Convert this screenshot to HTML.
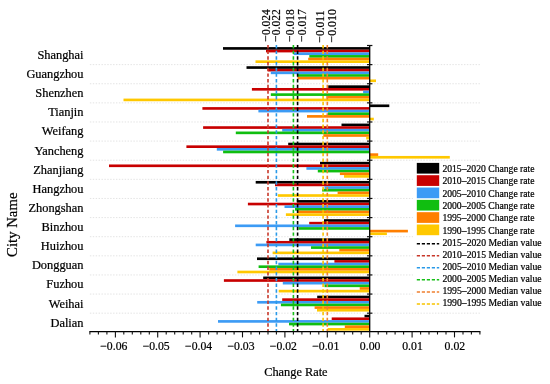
<!DOCTYPE html><html><head><meta charset="utf-8"><style>html,body{margin:0;padding:0;background:#fff;}svg{display:block;}text{font-family:"Liberation Serif","Times New Roman",serif;fill:#000;stroke:#000;stroke-width:0.22px;}</style></head><body>
<svg width="550" height="384" viewBox="0 0 550 384">
<line x1="89.9" y1="64.62" x2="479.9" y2="64.62" stroke="#e0e0e0" stroke-width="0.9" stroke-dasharray="1.4 1.5"/>
<line x1="89.9" y1="83.74" x2="479.9" y2="83.74" stroke="#e0e0e0" stroke-width="0.9" stroke-dasharray="1.4 1.5"/>
<line x1="89.9" y1="102.86" x2="479.9" y2="102.86" stroke="#e0e0e0" stroke-width="0.9" stroke-dasharray="1.4 1.5"/>
<line x1="89.9" y1="121.98" x2="479.9" y2="121.98" stroke="#e0e0e0" stroke-width="0.9" stroke-dasharray="1.4 1.5"/>
<line x1="89.9" y1="141.10" x2="479.9" y2="141.10" stroke="#e0e0e0" stroke-width="0.9" stroke-dasharray="1.4 1.5"/>
<line x1="89.9" y1="160.22" x2="479.9" y2="160.22" stroke="#e0e0e0" stroke-width="0.9" stroke-dasharray="1.4 1.5"/>
<line x1="89.9" y1="179.34" x2="479.9" y2="179.34" stroke="#e0e0e0" stroke-width="0.9" stroke-dasharray="1.4 1.5"/>
<line x1="89.9" y1="198.46" x2="479.9" y2="198.46" stroke="#e0e0e0" stroke-width="0.9" stroke-dasharray="1.4 1.5"/>
<line x1="89.9" y1="217.58" x2="479.9" y2="217.58" stroke="#e0e0e0" stroke-width="0.9" stroke-dasharray="1.4 1.5"/>
<line x1="89.9" y1="236.70" x2="479.9" y2="236.70" stroke="#e0e0e0" stroke-width="0.9" stroke-dasharray="1.4 1.5"/>
<line x1="89.9" y1="255.82" x2="479.9" y2="255.82" stroke="#e0e0e0" stroke-width="0.9" stroke-dasharray="1.4 1.5"/>
<line x1="89.9" y1="274.94" x2="479.9" y2="274.94" stroke="#e0e0e0" stroke-width="0.9" stroke-dasharray="1.4 1.5"/>
<line x1="89.9" y1="294.06" x2="479.9" y2="294.06" stroke="#e0e0e0" stroke-width="0.9" stroke-dasharray="1.4 1.5"/>
<line x1="89.9" y1="313.18" x2="479.9" y2="313.18" stroke="#e0e0e0" stroke-width="0.9" stroke-dasharray="1.4 1.5"/>
<rect x="223.0" y="47.10" width="146.7" height="2.65" fill="#000000"/>
<rect x="266.0" y="49.75" width="103.7" height="2.65" fill="#c80000"/>
<rect x="293.6" y="52.40" width="76.1" height="2.65" fill="#3c9bf5"/>
<rect x="309.3" y="55.05" width="60.4" height="2.65" fill="#10be10"/>
<rect x="308.2" y="57.70" width="61.5" height="2.65" fill="#ff7f00"/>
<rect x="255.5" y="60.35" width="114.2" height="2.65" fill="#ffc800"/>
<rect x="246.5" y="66.22" width="123.2" height="2.65" fill="#000000"/>
<rect x="267.6" y="68.87" width="102.1" height="2.65" fill="#c80000"/>
<rect x="270.8" y="71.52" width="98.9" height="2.65" fill="#3c9bf5"/>
<rect x="297.5" y="74.17" width="72.2" height="2.65" fill="#10be10"/>
<rect x="297.5" y="76.82" width="72.2" height="2.65" fill="#ff7f00"/>
<rect x="369.7" y="79.47" width="6.3" height="2.65" fill="#ffc800"/>
<rect x="328.2" y="85.34" width="41.5" height="2.65" fill="#000000"/>
<rect x="251.9" y="87.99" width="117.8" height="2.65" fill="#c80000"/>
<rect x="363.1" y="90.64" width="6.6" height="2.65" fill="#3c9bf5"/>
<rect x="270.8" y="93.29" width="98.9" height="2.65" fill="#10be10"/>
<rect x="326.5" y="95.94" width="43.2" height="2.65" fill="#ff7f00"/>
<rect x="123.5" y="98.59" width="246.2" height="2.65" fill="#ffc800"/>
<rect x="369.7" y="104.46" width="19.6" height="2.65" fill="#000000"/>
<rect x="202.4" y="107.11" width="167.3" height="2.65" fill="#c80000"/>
<rect x="258.4" y="109.76" width="111.3" height="2.65" fill="#3c9bf5"/>
<rect x="327.8" y="112.41" width="41.9" height="2.65" fill="#10be10"/>
<rect x="307.0" y="115.06" width="62.7" height="2.65" fill="#ff7f00"/>
<rect x="369.7" y="117.71" width="4.1" height="2.65" fill="#ffc800"/>
<rect x="341.5" y="123.58" width="28.2" height="2.65" fill="#000000"/>
<rect x="203.1" y="126.23" width="166.6" height="2.65" fill="#c80000"/>
<rect x="282.2" y="128.88" width="87.5" height="2.65" fill="#3c9bf5"/>
<rect x="235.8" y="131.53" width="133.9" height="2.65" fill="#10be10"/>
<rect x="323.3" y="134.18" width="46.4" height="2.65" fill="#ff7f00"/>
<rect x="366.2" y="136.83" width="3.5" height="2.65" fill="#ffc800"/>
<rect x="288.2" y="142.70" width="81.5" height="2.65" fill="#000000"/>
<rect x="186.4" y="145.35" width="183.3" height="2.65" fill="#c80000"/>
<rect x="216.8" y="148.00" width="152.9" height="2.65" fill="#3c9bf5"/>
<rect x="223.1" y="150.65" width="146.6" height="2.65" fill="#10be10"/>
<rect x="369.7" y="153.30" width="8.5" height="2.65" fill="#ff7f00"/>
<rect x="369.7" y="155.95" width="80.1" height="2.65" fill="#ffc800"/>
<rect x="320.0" y="161.82" width="49.7" height="2.65" fill="#000000"/>
<rect x="109.0" y="164.47" width="260.7" height="2.65" fill="#c80000"/>
<rect x="306.4" y="167.12" width="63.3" height="2.65" fill="#3c9bf5"/>
<rect x="317.8" y="169.77" width="51.9" height="2.65" fill="#10be10"/>
<rect x="339.9" y="172.42" width="29.8" height="2.65" fill="#ff7f00"/>
<rect x="344.0" y="175.07" width="25.7" height="2.65" fill="#ffc800"/>
<rect x="255.7" y="180.94" width="114.0" height="2.65" fill="#000000"/>
<rect x="275.0" y="183.59" width="94.7" height="2.65" fill="#c80000"/>
<rect x="324.5" y="186.24" width="45.2" height="2.65" fill="#3c9bf5"/>
<rect x="322.1" y="188.89" width="47.6" height="2.65" fill="#10be10"/>
<rect x="337.6" y="191.54" width="32.1" height="2.65" fill="#ff7f00"/>
<rect x="277.8" y="194.19" width="91.9" height="2.65" fill="#ffc800"/>
<rect x="296.8" y="200.06" width="72.9" height="2.65" fill="#000000"/>
<rect x="247.9" y="202.71" width="121.8" height="2.65" fill="#c80000"/>
<rect x="284.5" y="205.36" width="85.2" height="2.65" fill="#3c9bf5"/>
<rect x="295.0" y="208.01" width="74.7" height="2.65" fill="#10be10"/>
<rect x="297.3" y="210.66" width="72.4" height="2.65" fill="#ff7f00"/>
<rect x="285.9" y="213.31" width="83.8" height="2.65" fill="#ffc800"/>
<rect x="324.0" y="219.18" width="45.7" height="2.65" fill="#000000"/>
<rect x="309.2" y="221.83" width="60.5" height="2.65" fill="#c80000"/>
<rect x="235.1" y="224.48" width="134.6" height="2.65" fill="#3c9bf5"/>
<rect x="298.6" y="227.13" width="71.1" height="2.65" fill="#10be10"/>
<rect x="369.7" y="229.78" width="38.2" height="2.65" fill="#ff7f00"/>
<rect x="369.7" y="232.43" width="17.2" height="2.65" fill="#ffc800"/>
<rect x="289.3" y="238.30" width="80.4" height="2.65" fill="#000000"/>
<rect x="266.4" y="240.95" width="103.3" height="2.65" fill="#c80000"/>
<rect x="255.7" y="243.60" width="114.0" height="2.65" fill="#3c9bf5"/>
<rect x="311.0" y="246.25" width="58.7" height="2.65" fill="#10be10"/>
<rect x="339.3" y="248.90" width="30.4" height="2.65" fill="#ff7f00"/>
<rect x="272.6" y="251.55" width="97.1" height="2.65" fill="#ffc800"/>
<rect x="257.0" y="257.42" width="112.7" height="2.65" fill="#000000"/>
<rect x="334.4" y="260.07" width="35.3" height="2.65" fill="#c80000"/>
<rect x="278.3" y="262.72" width="91.4" height="2.65" fill="#3c9bf5"/>
<rect x="258.6" y="265.37" width="111.1" height="2.65" fill="#10be10"/>
<rect x="269.3" y="268.02" width="100.4" height="2.65" fill="#ff7f00"/>
<rect x="237.4" y="270.67" width="132.3" height="2.65" fill="#ffc800"/>
<rect x="263.2" y="276.54" width="106.5" height="2.65" fill="#000000"/>
<rect x="223.9" y="279.19" width="145.8" height="2.65" fill="#c80000"/>
<rect x="282.8" y="281.84" width="86.9" height="2.65" fill="#3c9bf5"/>
<rect x="324.5" y="284.49" width="45.2" height="2.65" fill="#10be10"/>
<rect x="359.7" y="287.14" width="10.0" height="2.65" fill="#ff7f00"/>
<rect x="278.7" y="289.79" width="91.0" height="2.65" fill="#ffc800"/>
<rect x="317.2" y="295.66" width="52.5" height="2.65" fill="#000000"/>
<rect x="282.2" y="298.31" width="87.5" height="2.65" fill="#c80000"/>
<rect x="257.2" y="300.96" width="112.5" height="2.65" fill="#3c9bf5"/>
<rect x="280.9" y="303.61" width="88.8" height="2.65" fill="#10be10"/>
<rect x="314.6" y="306.26" width="55.1" height="2.65" fill="#ff7f00"/>
<rect x="317.0" y="308.91" width="52.7" height="2.65" fill="#ffc800"/>
<rect x="364.5" y="314.78" width="5.2" height="2.65" fill="#000000"/>
<rect x="331.7" y="317.43" width="38.0" height="2.65" fill="#c80000"/>
<rect x="218.0" y="320.08" width="151.7" height="2.65" fill="#3c9bf5"/>
<rect x="289.0" y="322.73" width="80.7" height="2.65" fill="#10be10"/>
<rect x="344.8" y="325.38" width="24.9" height="2.65" fill="#ff7f00"/>
<rect x="327.6" y="328.03" width="42.1" height="2.65" fill="#ffc800"/>
<rect x="413" y="161.5" width="137" height="149" fill="#fff"/>
<line x1="297.6" y1="45.0" x2="297.6" y2="331.6" stroke="#000000" stroke-width="1.6" stroke-dasharray="3.4 2.28"/>
<line x1="268.0" y1="45.0" x2="268.0" y2="331.6" stroke="#c8382a" stroke-width="1.6" stroke-dasharray="3.4 2.28"/>
<line x1="276.4" y1="45.0" x2="276.4" y2="331.6" stroke="#2a9ae8" stroke-width="1.6" stroke-dasharray="3.4 2.28"/>
<line x1="293.4" y1="45.0" x2="293.4" y2="331.6" stroke="#18c018" stroke-width="1.6" stroke-dasharray="3.4 2.28"/>
<line x1="327.3" y1="45.0" x2="327.3" y2="331.6" stroke="#f08030" stroke-width="1.6" stroke-dasharray="3.4 2.28"/>
<line x1="323.1" y1="45.0" x2="323.1" y2="331.6" stroke="#f8c400" stroke-width="1.6" stroke-dasharray="3.4 2.28"/>
<line x1="369.7" y1="45.5" x2="369.7" y2="331.6" stroke="#000" stroke-width="1.3"/>
<line x1="367.0" y1="45.50" x2="372.4" y2="45.50" stroke="#111" stroke-width="1.2"/>
<line x1="367.0" y1="64.62" x2="372.4" y2="64.62" stroke="#111" stroke-width="1.2"/>
<line x1="367.0" y1="83.74" x2="372.4" y2="83.74" stroke="#111" stroke-width="1.2"/>
<line x1="367.0" y1="102.86" x2="372.4" y2="102.86" stroke="#111" stroke-width="1.2"/>
<line x1="367.0" y1="121.98" x2="372.4" y2="121.98" stroke="#111" stroke-width="1.2"/>
<line x1="367.0" y1="141.10" x2="372.4" y2="141.10" stroke="#111" stroke-width="1.2"/>
<line x1="367.0" y1="160.22" x2="372.4" y2="160.22" stroke="#111" stroke-width="1.2"/>
<line x1="367.0" y1="179.34" x2="372.4" y2="179.34" stroke="#111" stroke-width="1.2"/>
<line x1="367.0" y1="198.46" x2="372.4" y2="198.46" stroke="#111" stroke-width="1.2"/>
<line x1="367.0" y1="217.58" x2="372.4" y2="217.58" stroke="#111" stroke-width="1.2"/>
<line x1="367.0" y1="236.70" x2="372.4" y2="236.70" stroke="#111" stroke-width="1.2"/>
<line x1="367.0" y1="255.82" x2="372.4" y2="255.82" stroke="#111" stroke-width="1.2"/>
<line x1="367.0" y1="274.94" x2="372.4" y2="274.94" stroke="#111" stroke-width="1.2"/>
<line x1="367.0" y1="294.06" x2="372.4" y2="294.06" stroke="#111" stroke-width="1.2"/>
<line x1="367.0" y1="313.18" x2="372.4" y2="313.18" stroke="#111" stroke-width="1.2"/>
<line x1="89.4" y1="331.6" x2="480.4" y2="331.6" stroke="#000" stroke-width="1.2"/>
<line x1="89.9" y1="331.6" x2="89.9" y2="334.5" stroke="#111" stroke-width="1.1"/>
<line x1="98.4" y1="331.6" x2="98.4" y2="334.5" stroke="#111" stroke-width="1.1"/>
<line x1="106.9" y1="331.6" x2="106.9" y2="334.5" stroke="#111" stroke-width="1.1"/>
<line x1="115.4" y1="331.6" x2="115.4" y2="337.40000000000003" stroke="#111" stroke-width="1.1"/>
<line x1="123.8" y1="331.6" x2="123.8" y2="334.5" stroke="#111" stroke-width="1.1"/>
<line x1="132.3" y1="331.6" x2="132.3" y2="334.5" stroke="#111" stroke-width="1.1"/>
<line x1="140.8" y1="331.6" x2="140.8" y2="334.5" stroke="#111" stroke-width="1.1"/>
<line x1="149.3" y1="331.6" x2="149.3" y2="334.5" stroke="#111" stroke-width="1.1"/>
<line x1="157.7" y1="331.6" x2="157.7" y2="337.40000000000003" stroke="#111" stroke-width="1.1"/>
<line x1="166.2" y1="331.6" x2="166.2" y2="334.5" stroke="#111" stroke-width="1.1"/>
<line x1="174.7" y1="331.6" x2="174.7" y2="334.5" stroke="#111" stroke-width="1.1"/>
<line x1="183.2" y1="331.6" x2="183.2" y2="334.5" stroke="#111" stroke-width="1.1"/>
<line x1="191.7" y1="331.6" x2="191.7" y2="334.5" stroke="#111" stroke-width="1.1"/>
<line x1="200.1" y1="331.6" x2="200.1" y2="337.40000000000003" stroke="#111" stroke-width="1.1"/>
<line x1="208.6" y1="331.6" x2="208.6" y2="334.5" stroke="#111" stroke-width="1.1"/>
<line x1="217.1" y1="331.6" x2="217.1" y2="334.5" stroke="#111" stroke-width="1.1"/>
<line x1="225.6" y1="331.6" x2="225.6" y2="334.5" stroke="#111" stroke-width="1.1"/>
<line x1="234.1" y1="331.6" x2="234.1" y2="334.5" stroke="#111" stroke-width="1.1"/>
<line x1="242.5" y1="331.6" x2="242.5" y2="337.40000000000003" stroke="#111" stroke-width="1.1"/>
<line x1="251.0" y1="331.6" x2="251.0" y2="334.5" stroke="#111" stroke-width="1.1"/>
<line x1="259.5" y1="331.6" x2="259.5" y2="334.5" stroke="#111" stroke-width="1.1"/>
<line x1="268.0" y1="331.6" x2="268.0" y2="334.5" stroke="#111" stroke-width="1.1"/>
<line x1="276.4" y1="331.6" x2="276.4" y2="334.5" stroke="#111" stroke-width="1.1"/>
<line x1="284.9" y1="331.6" x2="284.9" y2="337.40000000000003" stroke="#111" stroke-width="1.1"/>
<line x1="293.4" y1="331.6" x2="293.4" y2="334.5" stroke="#111" stroke-width="1.1"/>
<line x1="301.9" y1="331.6" x2="301.9" y2="334.5" stroke="#111" stroke-width="1.1"/>
<line x1="310.4" y1="331.6" x2="310.4" y2="334.5" stroke="#111" stroke-width="1.1"/>
<line x1="318.8" y1="331.6" x2="318.8" y2="334.5" stroke="#111" stroke-width="1.1"/>
<line x1="327.3" y1="331.6" x2="327.3" y2="337.40000000000003" stroke="#111" stroke-width="1.1"/>
<line x1="335.8" y1="331.6" x2="335.8" y2="334.5" stroke="#111" stroke-width="1.1"/>
<line x1="344.3" y1="331.6" x2="344.3" y2="334.5" stroke="#111" stroke-width="1.1"/>
<line x1="352.7" y1="331.6" x2="352.7" y2="334.5" stroke="#111" stroke-width="1.1"/>
<line x1="361.2" y1="331.6" x2="361.2" y2="334.5" stroke="#111" stroke-width="1.1"/>
<line x1="369.7" y1="331.6" x2="369.7" y2="337.40000000000003" stroke="#111" stroke-width="1.1"/>
<line x1="378.2" y1="331.6" x2="378.2" y2="334.5" stroke="#111" stroke-width="1.1"/>
<line x1="386.7" y1="331.6" x2="386.7" y2="334.5" stroke="#111" stroke-width="1.1"/>
<line x1="395.1" y1="331.6" x2="395.1" y2="334.5" stroke="#111" stroke-width="1.1"/>
<line x1="403.6" y1="331.6" x2="403.6" y2="334.5" stroke="#111" stroke-width="1.1"/>
<line x1="412.1" y1="331.6" x2="412.1" y2="337.40000000000003" stroke="#111" stroke-width="1.1"/>
<line x1="420.6" y1="331.6" x2="420.6" y2="334.5" stroke="#111" stroke-width="1.1"/>
<line x1="429.0" y1="331.6" x2="429.0" y2="334.5" stroke="#111" stroke-width="1.1"/>
<line x1="437.5" y1="331.6" x2="437.5" y2="334.5" stroke="#111" stroke-width="1.1"/>
<line x1="446.0" y1="331.6" x2="446.0" y2="334.5" stroke="#111" stroke-width="1.1"/>
<line x1="454.5" y1="331.6" x2="454.5" y2="337.40000000000003" stroke="#111" stroke-width="1.1"/>
<line x1="463.0" y1="331.6" x2="463.0" y2="334.5" stroke="#111" stroke-width="1.1"/>
<line x1="471.4" y1="331.6" x2="471.4" y2="334.5" stroke="#111" stroke-width="1.1"/>
<line x1="479.9" y1="331.6" x2="479.9" y2="334.5" stroke="#111" stroke-width="1.1"/>
<text x="83.5" y="58.96" font-size="12.4" text-anchor="end">Shanghai</text>
<text x="83.5" y="78.08" font-size="12.4" text-anchor="end">Guangzhou</text>
<text x="83.5" y="97.20" font-size="12.4" text-anchor="end">Shenzhen</text>
<text x="83.5" y="116.32" font-size="12.4" text-anchor="end">Tianjin</text>
<text x="83.5" y="135.44" font-size="12.4" text-anchor="end">Weifang</text>
<text x="83.5" y="154.56" font-size="12.4" text-anchor="end">Yancheng</text>
<text x="83.5" y="173.68" font-size="12.4" text-anchor="end">Zhanjiang</text>
<text x="83.5" y="192.80" font-size="12.4" text-anchor="end">Hangzhou</text>
<text x="83.5" y="211.92" font-size="12.4" text-anchor="end">Zhongshan</text>
<text x="83.5" y="231.04" font-size="12.4" text-anchor="end">Binzhou</text>
<text x="83.5" y="250.16" font-size="12.4" text-anchor="end">Huizhou</text>
<text x="83.5" y="269.28" font-size="12.4" text-anchor="end">Dongguan</text>
<text x="83.5" y="288.40" font-size="12.4" text-anchor="end">Fuzhou</text>
<text x="83.5" y="307.52" font-size="12.4" text-anchor="end">Weihai</text>
<text x="83.5" y="326.64" font-size="12.4" text-anchor="end">Dalian</text>
<text x="100.26" y="349.90" font-size="12.0" textLength="27.10" lengthAdjust="spacingAndGlyphs">−0.06</text>
<text x="142.65" y="349.90" font-size="12.0" textLength="27.10" lengthAdjust="spacingAndGlyphs">−0.05</text>
<text x="185.04" y="349.90" font-size="12.0" textLength="27.10" lengthAdjust="spacingAndGlyphs">−0.04</text>
<text x="227.43" y="349.90" font-size="12.0" textLength="27.10" lengthAdjust="spacingAndGlyphs">−0.03</text>
<text x="269.82" y="349.90" font-size="12.0" textLength="27.10" lengthAdjust="spacingAndGlyphs">−0.02</text>
<text x="312.21" y="349.90" font-size="12.0" textLength="27.10" lengthAdjust="spacingAndGlyphs">−0.01</text>
<text x="359.80" y="349.90" font-size="12.0" textLength="20.60" lengthAdjust="spacingAndGlyphs">0.00</text>
<text x="402.19" y="349.90" font-size="12.0" textLength="20.60" lengthAdjust="spacingAndGlyphs">0.01</text>
<text x="444.58" y="349.90" font-size="12.0" textLength="20.60" lengthAdjust="spacingAndGlyphs">0.02</text>
<text transform="translate(269.50,41.50) rotate(-90)" font-size="12.3" textLength="32.34" lengthAdjust="spacingAndGlyphs">−0.024</text>
<text transform="translate(280.40,41.70) rotate(-90)" font-size="12.3" textLength="32.34" lengthAdjust="spacingAndGlyphs">−0.022</text>
<text transform="translate(294.40,41.70) rotate(-90)" font-size="12.3" textLength="32.34" lengthAdjust="spacingAndGlyphs">−0.018</text>
<text transform="translate(305.90,41.70) rotate(-90)" font-size="12.3" textLength="32.34" lengthAdjust="spacingAndGlyphs">−0.017</text>
<text transform="translate(323.70,42.50) rotate(-90)" font-size="12.3" textLength="31.94" lengthAdjust="spacingAndGlyphs">−0.011</text>
<text transform="translate(335.80,42.50) rotate(-90)" font-size="12.3" textLength="33.34" lengthAdjust="spacingAndGlyphs">−0.010</text>
<text x="264.20" y="376.30" font-size="13.0" textLength="63.38" lengthAdjust="spacingAndGlyphs">Change Rate</text>
<text transform="translate(17.20,256.90) rotate(-90)" font-size="15.2" textLength="64.35" lengthAdjust="spacingAndGlyphs">City Name</text>
<text x="442.40" y="172.00" font-size="10.3" textLength="92.20" lengthAdjust="spacingAndGlyphs">2015–2020 Change rate</text>
<text x="442.40" y="184.32" font-size="10.3" textLength="92.20" lengthAdjust="spacingAndGlyphs">2010–2015 Change rate</text>
<text x="442.40" y="196.64" font-size="10.3" textLength="92.20" lengthAdjust="spacingAndGlyphs">2005–2010 Change rate</text>
<text x="442.40" y="208.96" font-size="10.3" textLength="92.20" lengthAdjust="spacingAndGlyphs">2000–2005 Change rate</text>
<text x="442.40" y="221.28" font-size="10.3" textLength="92.20" lengthAdjust="spacingAndGlyphs">1995–2000 Change rate</text>
<text x="442.40" y="233.60" font-size="10.3" textLength="92.20" lengthAdjust="spacingAndGlyphs">1990–1995 Change rate</text>
<text x="442.40" y="246.20" font-size="10.3" textLength="99.19" lengthAdjust="spacingAndGlyphs">2015–2020 Median value</text>
<text x="442.40" y="258.22" font-size="10.3" textLength="99.19" lengthAdjust="spacingAndGlyphs">2010–2015 Median value</text>
<text x="442.40" y="270.24" font-size="10.3" textLength="99.19" lengthAdjust="spacingAndGlyphs">2005–2010 Median value</text>
<text x="442.40" y="282.26" font-size="10.3" textLength="99.19" lengthAdjust="spacingAndGlyphs">2000–2005 Median value</text>
<text x="442.40" y="294.28" font-size="10.3" textLength="99.19" lengthAdjust="spacingAndGlyphs">1995–2000 Median value</text>
<text x="442.40" y="306.30" font-size="10.3" textLength="99.19" lengthAdjust="spacingAndGlyphs">1990–1995 Median value</text>
<rect x="416.8" y="162.90" width="22.4" height="10.7" fill="#000000"/>
<rect x="416.8" y="175.22" width="22.4" height="10.7" fill="#c80000"/>
<rect x="416.8" y="187.54" width="22.4" height="10.7" fill="#3c9bf5"/>
<rect x="416.8" y="199.86" width="22.4" height="10.7" fill="#10be10"/>
<rect x="416.8" y="212.18" width="22.4" height="10.7" fill="#ff7f00"/>
<rect x="416.8" y="224.50" width="22.4" height="10.7" fill="#ffc800"/>
<line x1="416.8" y1="243.80" x2="439.2" y2="243.80" stroke="#000000" stroke-width="1.5" stroke-dasharray="3.2 1.8"/>
<line x1="416.8" y1="255.82" x2="439.2" y2="255.82" stroke="#c8382a" stroke-width="1.5" stroke-dasharray="3.2 1.8"/>
<line x1="416.8" y1="267.84" x2="439.2" y2="267.84" stroke="#2a9ae8" stroke-width="1.5" stroke-dasharray="3.2 1.8"/>
<line x1="416.8" y1="279.86" x2="439.2" y2="279.86" stroke="#18c018" stroke-width="1.5" stroke-dasharray="3.2 1.8"/>
<line x1="416.8" y1="291.88" x2="439.2" y2="291.88" stroke="#f08030" stroke-width="1.5" stroke-dasharray="3.2 1.8"/>
<line x1="416.8" y1="303.90" x2="439.2" y2="303.90" stroke="#f8c400" stroke-width="1.5" stroke-dasharray="3.2 1.8"/>
</svg></body></html>
